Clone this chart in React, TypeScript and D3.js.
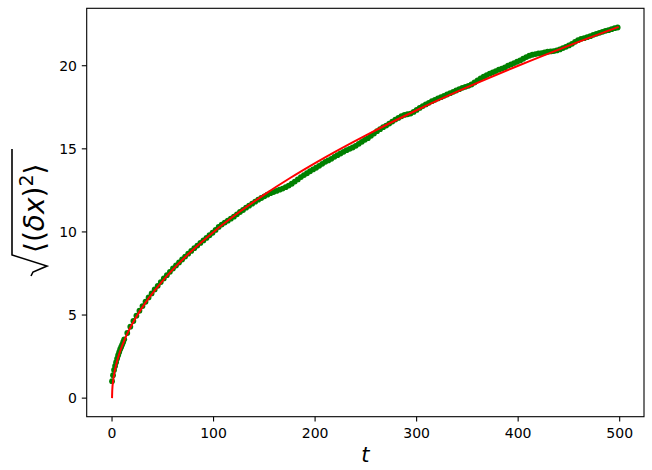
import React from "react";
import * as d3 from "d3";

const W = 652;
const H = 470;

// Green measured points (t, rms displacement)
const greenT = [0, 1, 2, 3, 4, 5, 6, 7, 8, 9, 10, 11,
  12, 15, 18, 21, 24, 27, 30, 33, 36, 39, 42, 45, 48, 51, 54, 57, 60, 63, 66, 69, 72, 75, 78, 81, 84, 87, 90, 93, 96, 99,
  102, 105, 108, 111, 114, 117, 120, 123, 126, 129, 132, 135, 138, 141, 144, 147, 150, 153, 156, 159, 162, 165, 168, 171, 174, 177, 180, 183, 186, 189, 192, 195, 198,
  201, 204, 207, 210, 213, 216, 219, 222, 225, 228, 231, 234, 237, 240, 243, 246, 249, 252, 255, 258, 261, 264, 267, 270, 273, 276, 279, 282, 285, 288, 291, 294, 297,
  300, 303, 306, 309, 312, 315, 318, 321, 324, 327, 330, 333, 336, 339, 342, 345, 348, 351, 354, 357, 360, 363, 366, 369, 372, 375, 378, 381, 384, 387, 390, 393, 396, 399,
  402, 405, 408, 411, 414, 417, 420, 423, 426, 429, 432, 435, 438, 441, 444, 447, 450, 453, 456, 459, 462, 465, 468, 471, 474, 477, 480, 483, 486, 489, 492, 495, 498];
const greenY = [1.02, 1.38, 1.7, 1.94, 2.16, 2.38, 2.58, 2.76, 2.94, 3.08, 3.22, 3.38,
  3.54, 3.92, 4.3, 4.64, 4.96, 5.26, 5.54, 5.8, 6.06, 6.3, 6.54, 6.76, 6.98, 7.2, 7.4, 7.6, 7.8, 7.98, 8.16, 8.34, 8.52, 8.69, 8.86, 9.02, 9.18, 9.34, 9.49, 9.64, 9.8, 9.95,
  10.12, 10.3, 10.44, 10.56, 10.68, 10.8, 10.92, 11.06, 11.2, 11.32, 11.46, 11.58, 11.7, 11.82, 11.94, 12.04, 12.14, 12.24, 12.33, 12.4, 12.47, 12.54, 12.61, 12.69, 12.79, 12.9, 13.03, 13.16, 13.3, 13.42, 13.53, 13.65, 13.76,
  13.86, 13.98, 14.1, 14.22, 14.3, 14.4, 14.52, 14.62, 14.72, 14.82, 14.92, 15.0, 15.08, 15.18, 15.3, 15.42, 15.54, 15.64, 15.78, 15.92, 16.06, 16.18, 16.3, 16.4, 16.52, 16.64, 16.76, 16.86, 16.96, 17.04, 17.08, 17.12, 17.22,
  17.34, 17.46, 17.57, 17.67, 17.77, 17.87, 17.95, 18.03, 18.11, 18.19, 18.27, 18.35, 18.43, 18.51, 18.59, 18.67, 18.73, 18.79, 18.87, 18.99, 19.12, 19.24, 19.34, 19.44, 19.52, 19.6, 19.68, 19.76, 19.82, 19.9, 20.0, 20.08, 20.16, 20.24,
  20.32, 20.42, 20.52, 20.6, 20.66, 20.7, 20.74, 20.76, 20.8, 20.84, 20.86, 20.88, 20.92, 20.98, 21.06, 21.14, 21.22, 21.32, 21.44, 21.54, 21.62, 21.66, 21.72, 21.78, 21.86, 21.92, 21.98, 22.04, 22.1, 22.14, 22.2, 22.26, 22.3];

// Red reference curve
const redT = [0, 0.25, 1, 2, 3, 4, 6, 9, 12, 16, 20, 25, 30, 36, 49, 64, 81, 100, 125, 150, 175, 200, 250, 300, 350, 400, 450, 499];
const redY = [0, 0.5, 1, 1.414, 1.732, 2, 2.449, 3, 3.464, 4, 4.472, 5, 5.477, 6, 7, 8, 9, 10, 11.18, 12.247, 13.229, 14.142, 15.811, 17.321, 18.708, 20, 21.213, 22.338];

const xTicks = [0, 100, 200, 300, 400, 500];
const yTicks = [0, 5, 10, 15, 20];

const L = 86.7, R = 644, T = 8.3, B = 416.7;

export default function App() {
  const x = d3.scaleLinear().domain([-24.95, 523.95]).range([L, R]);
  const y = d3.scaleLinear().domain([-1.117, 23.455]).range([B, T]);
  const redPts: [number, number][] = redT.map((t, i) => [t, redY[i]]);
  const line = d3.line<[number, number]>().x(d => x(d[0])).y(d => y(d[1])).curve(d3.curveMonotoneX);
  const font = "DejaVu Sans, sans-serif";

  return (
    <svg width={W} height={H} style={{ position: "absolute", left: 0, top: 0, background: "#fff" }} fontFamily={font}>
      <rect x={0} y={0} width={W} height={H} fill="#fff" />
      <g>
        {greenT.map((t, i) => (
          <circle key={i} cx={x(t)} cy={y(greenY[i])} r={2.9} fill="#008000" />
        ))}
      </g>
      <path d={line(redPts) || ""} fill="none" stroke="#ff0000" strokeWidth={2} />
      <rect x={L} y={T} width={R - L} height={B - T} fill="none" stroke="#000" strokeWidth={1.1} />
      {xTicks.map(t => (
        <g key={t}>
          <line x1={x(t)} x2={x(t)} y1={B} y2={B + 4.9} stroke="#000" strokeWidth={1.1} />
          <text x={x(t)} y={438} textAnchor="middle" fontSize={14} fill="#000">{t}</text>
        </g>
      ))}
      {yTicks.map(v => (
        <g key={v}>
          <line x1={L - 4.9} x2={L} y1={y(v)} y2={y(v)} stroke="#000" strokeWidth={1.1} />
          <text x={77} y={y(v)} dy="0.36em" textAnchor="end" fontSize={14} fill="#000">{v}</text>
        </g>
      ))}
      <text x={365.3} y={462} textAnchor="middle" fontSize={21} fontStyle="italic" fill="#000">t</text>
      <path d="M31,276 L33,272 L47,266 L12,255 L12,149" fill="none" stroke="#000" strokeWidth={1.6} strokeLinejoin="miter" />
      <g transform="translate(44,253) rotate(-90)">
        <text x={0} y={0} fontSize={28} fill="#000">
          <tspan>⟨(</tspan>
          <tspan fontStyle="italic">δx</tspan>
          <tspan>)</tspan>
          <tspan fontSize={19} dy={-11}>2</tspan>
          <tspan dy={11}>⟩</tspan>
        </text>
      </g>
    </svg>
  );
}
